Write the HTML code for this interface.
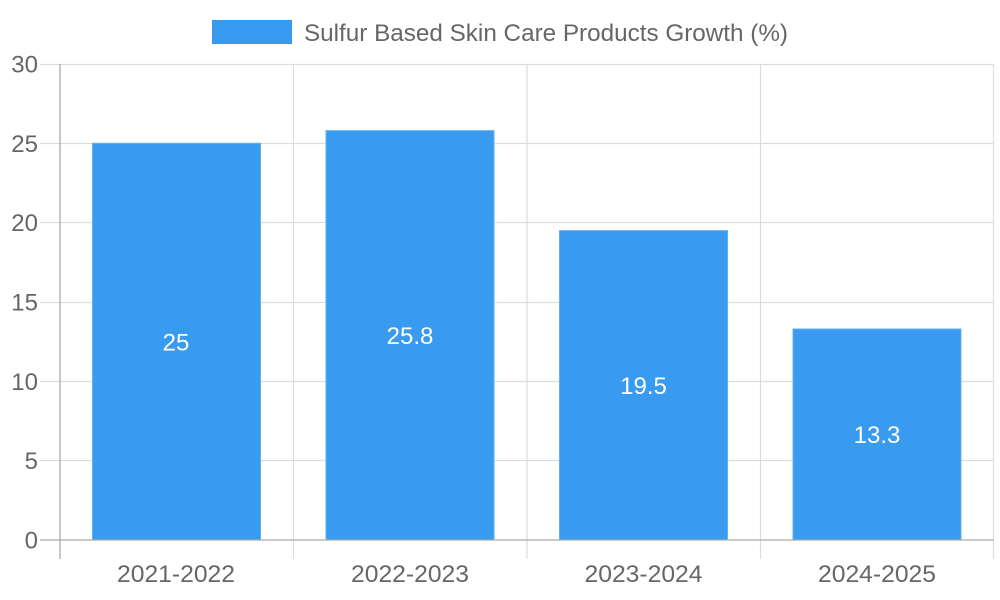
<!DOCTYPE html>
<html><head><meta charset="utf-8"><style>
html,body{margin:0;padding:0;background:#fff;}
svg{display:block;font-family:"Liberation Sans",Arial,sans-serif;}
</style></head><body>
<svg width="1000" height="600" viewBox="0 0 1000 600" xmlns="http://www.w3.org/2000/svg">
<!-- legend -->
<rect x="212" y="20" width="80" height="24" fill="#389BEF"/>
<text x="304" y="41" font-size="24" fill="#666" textLength="484" lengthAdjust="spacingAndGlyphs">Sulfur Based Skin Care Products Growth (%)</text>
<!-- grid -->
<g stroke="#dddddd" stroke-width="1.2">
<line x1="40" y1="64.5" x2="994" y2="64.5"/>
<line x1="40" y1="143.5" x2="994" y2="143.5"/>
<line x1="40" y1="222.5" x2="994" y2="222.5"/>
<line x1="40" y1="302.5" x2="994" y2="302.5"/>
<line x1="40" y1="381.5" x2="994" y2="381.5"/>
<line x1="40" y1="460.5" x2="994" y2="460.5"/>
<line x1="293.5" y1="64" x2="293.5" y2="559"/>
<line x1="527" y1="64" x2="527" y2="559"/>
<line x1="760.5" y1="64" x2="760.5" y2="559"/>
<line x1="993.5" y1="64" x2="993.5" y2="559"/>
</g>
<!-- bars -->
<g fill="#389BEF" stroke="#62b0f2" stroke-width="1">
<rect x="92.5" y="143.3" width="168" height="396.7"/>
<rect x="326" y="130.6" width="168" height="409.4"/>
<rect x="559.5" y="230.6" width="168" height="309.4"/>
<rect x="793" y="329" width="168" height="211"/>
</g>
<!-- axes -->
<g stroke="#aaaaaa" stroke-width="1.3">
<line x1="60" y1="64" x2="60" y2="559"/>
<line x1="40" y1="540" x2="994" y2="540"/>
</g>
<!-- y labels -->
<g font-size="24" fill="#666" text-anchor="end">
<text x="38" y="72.5">30</text>
<text x="38" y="151.8">25</text>
<text x="38" y="231.1">20</text>
<text x="38" y="310.5">15</text>
<text x="38" y="389.8">10</text>
<text x="38" y="469.2">5</text>
<text x="38" y="548.5">0</text>
</g>
<!-- x labels -->
<g font-size="24" fill="#666" text-anchor="middle">
<text x="176" y="582" textLength="118" lengthAdjust="spacingAndGlyphs">2021-2022</text>
<text x="410" y="582" textLength="118" lengthAdjust="spacingAndGlyphs">2022-2023</text>
<text x="643.5" y="582" textLength="118" lengthAdjust="spacingAndGlyphs">2023-2024</text>
<text x="877" y="582" textLength="118" lengthAdjust="spacingAndGlyphs">2024-2025</text>
</g>
<!-- value labels -->
<g font-size="24" fill="#fff" text-anchor="middle">
<text x="176" y="350.4">25</text>
<text x="410" y="344">25.8</text>
<text x="643.5" y="394">19.5</text>
<text x="877" y="443">13.3</text>
</g>
</svg>
</body></html>
